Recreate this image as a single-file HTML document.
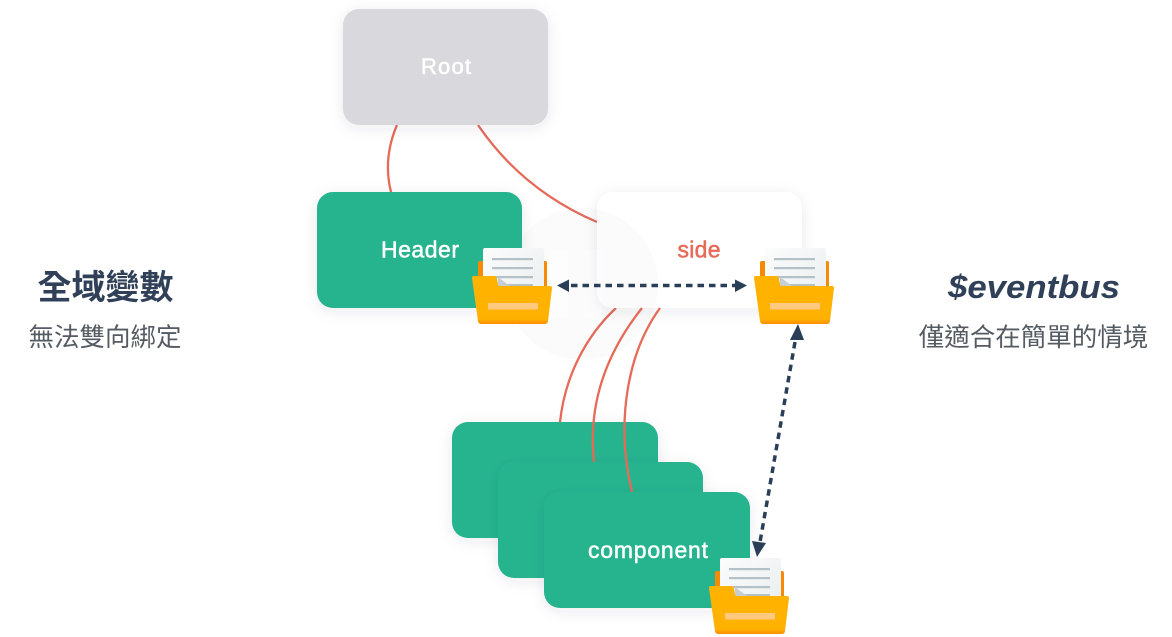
<!DOCTYPE html>
<html>
<head>
<meta charset="utf-8">
<style>
html,body{margin:0;padding:0;background:#fff;width:1172px;height:637px;overflow:hidden}
svg{display:block}
text{font-family:"Liberation Sans","Noto Sans CJK TC",sans-serif}
</style>
</head>
<body>
<svg width="1172" height="637" viewBox="0 0 1172 637" xmlns="http://www.w3.org/2000/svg">
<defs>
<filter id="sh" x="-20%" y="-20%" width="140%" height="150%">
<feDropShadow dx="0" dy="3" stdDeviation="7" flood-color="#3a3a50" flood-opacity="0.09"/>
</filter>
<linearGradient id="fb" x1="0" y1="0" x2="0" y2="1">
<stop offset="0" stop-color="#ffb300"/><stop offset="0.9" stop-color="#ffb100"/><stop offset="1" stop-color="#fb8c00"/>
</linearGradient>
<linearGradient id="pp" x1="0" y1="0" x2="1" y2="1">
<stop offset="0" stop-color="#fbfcfc"/><stop offset="1" stop-color="#e9edef"/>
</linearGradient>
<g id="folder">
<path d="M8 14H73a2 2 0 0 1 2 2V50H6V16a2 2 0 0 1 2-2z" fill="#f58a05"/>
<rect x="11" y="1" width="61" height="58" rx="2" fill="url(#pp)"/>
<g fill="#b4c1c6">
<rect x="20" y="11" width="41" height="2.2"/>
<rect x="20" y="20" width="41" height="2.2"/>
<rect x="20" y="29" width="41" height="2.2"/>
<rect x="20" y="37" width="41" height="2.2"/>
</g>
<path d="M26 30L38 39H26z" fill="#c5ced2"/>
<path d="M2 29H22a3 3 0 0 1 3 3l1 5a2 2 0 0 0 2 2H78a2 2 0 0 1 2 2L76 74a3 3 0 0 1-3 3H9a3 3 0 0 1-3-3L0 31a2 2 0 0 1 2-2z" fill="url(#fb)"/>
<rect x="16" y="56" width="50" height="6.500" fill="#ffca80"/>
</g>
</defs>

<rect width="1172" height="637" fill="#fff"/>

<!-- upper connectors -->
<g fill="none" stroke="#e66a58" stroke-width="2.300">
<path d="M397 125C388 146 385 168 391 192"/>
<path d="M478 125C508 169 548 201 597 222"/>
<path d="M616 308C586 336 565 376 560 422"/>
</g>

<!-- boxes -->
<rect x="343" y="9" width="205" height="116" rx="16" fill="#d9d9dd" filter="url(#sh)"/>
<text x="446" y="74" font-size="22" fill="#fff" stroke="#fff" stroke-width="0.5" text-anchor="middle" textLength="50" lengthAdjust="spacing">Root</text>

<rect x="317" y="192" width="205" height="116" rx="16" fill="#25b48f" filter="url(#sh)"/>
<text x="420" y="257.500" font-size="23" fill="#fff" stroke="#fff" stroke-width="0.5" text-anchor="middle" textLength="78" lengthAdjust="spacing">Header</text>

<rect x="597" y="192" width="205" height="116" rx="16" fill="#fff" filter="url(#sh)"/>
<text x="699" y="257.500" font-size="23" fill="#e66a58" stroke="#e66a58" stroke-width="0.5" text-anchor="middle" textLength="43" lengthAdjust="spacing">side</text>

<rect x="452" y="422" width="206" height="116" rx="16" fill="#25b48f" filter="url(#sh)"/>
<path d="M642 308C611 347 587 398 594 462" fill="none" stroke="#e66a58" stroke-width="2.300"/>
<rect x="498" y="462" width="205" height="116" rx="16" fill="#25b48f" filter="url(#sh)"/>
<path d="M660 308C628 352 615 421 632 492" fill="none" stroke="#e66a58" stroke-width="2.300"/>
<rect x="544" y="492" width="206" height="116" rx="16" fill="#25b48f" filter="url(#sh)"/>
<text x="648" y="558" font-size="23" fill="#fff" stroke="#fff" stroke-width="0.5" text-anchor="middle" textLength="120" lengthAdjust="spacing">component</text>

<!-- ghost overlay -->
<circle cx="582" cy="284" r="76" fill="#8a8a9a" opacity="0.035"/>
<rect x="550" y="250" width="18" height="68" fill="#fff" opacity="0.5"/>
<rect x="584" y="250" width="18" height="68" fill="#fff" opacity="0.25"/>

<!-- folders -->
<use href="#folder" x="472" y="247"/>
<use href="#folder" x="754" y="247"/>
<use href="#folder" x="709" y="557"/>

<!-- dashed arrows -->
<g fill="none" stroke="#2b3e58" stroke-width="3.500" stroke-dasharray="6.500 5">
<path d="M571 285.500H735"/>
<path d="M795 342L760 542"/>
</g>
<g fill="#2b3e58">
<path d="M557 285.500L569 279.500V292z"/>
<path d="M747 285.500L735 279.500V292z"/>
<path d="M798 324L790 340H804z"/>
<path d="M757 557L752 541L766 543z"/>
</g>

<!-- side labels -->
<text x="105.500" y="299" font-size="34" font-weight="700" fill="#2f4058" text-anchor="middle">全域變數</text>
<text x="105" y="346" font-size="25.500" fill="#555b62" text-anchor="middle">無法雙向綁定</text>
<text x="1034" y="298" font-size="32" font-weight="700" font-style="italic" fill="#2f4058" text-anchor="middle" textLength="172" lengthAdjust="spacingAndGlyphs">$eventbus</text>
<text x="1033.500" y="346" font-size="25.500" fill="#555b62" text-anchor="middle">僅適合在簡單的情境</text>
</svg>
</body>
</html>
